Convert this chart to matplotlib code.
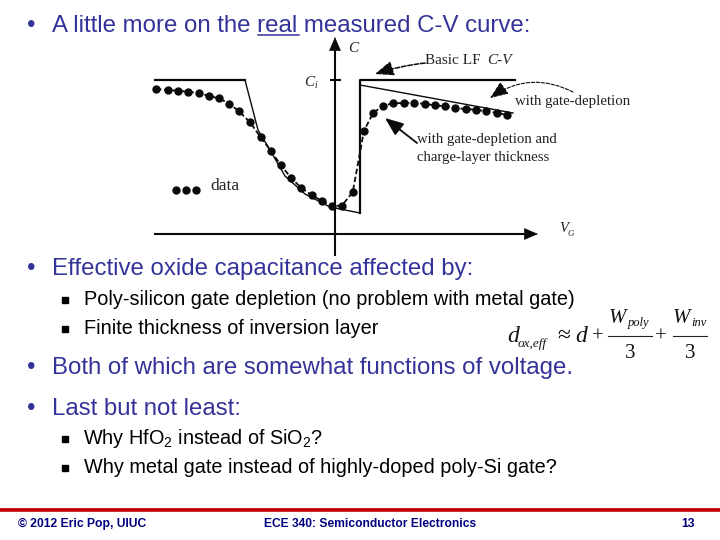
"""Slide with a measured C-V curve sketch, bullets and a small formula."""

import matplotlib
matplotlib.use("Agg")
import matplotlib.pyplot as plt
from matplotlib.patches import FancyArrowPatch

plt.rcParams["font.family"] = ["Liberation Sans", "DejaVu Sans"]
plt.rcParams["mathtext.fontset"] = "custom"
plt.rcParams["mathtext.rm"] = "Liberation Sans"
plt.rcParams["mathtext.it"] = "Liberation Sans:italic"

BLUE = "#333399"
NAVY = "#000080"
INK = "#0a0a0a"
LABEL = "#222222"
SERIF = "Liberation Serif"

# chart values: gate voltage and capacitance
data_v = [-179, -167.3, -157.3, -147.3, -136, -126, -116.3, -105.7, -96, -85, -74.3, -64.3, -54.3,
          -44, -34, -23.3, -13.3, -3.3, 6.7, 17.7, 29, 38.3, 48.3, 58.3, 69, 79.3, 90, 100, 110,
          120, 130.7, 140.7, 151, 161.7, 171.7]
data_c = [145, 144, 143.3, 142.3, 141, 138, 135.7, 130.3, 122.7, 111.7, 96.7, 83.3, 69, 56.3, 46.3,
          38.7, 33.3, 28, 28.3, 41.7, 103.3, 121.3, 128.3, 130.7, 131, 131.3, 130, 128.7, 127.7,
          126, 125, 124.3, 122.7, 121.3, 119]
basic_v = [-180, -90]
basic_c = [154, 154]
basic_inv_v = [25, 25, 180]
basic_inv_c = [21, 154, 154]
depl_v = [-90, -77, -65, -50, -30, -5, 25, 25, 178]
depl_c = [154, 104, 84, 58, 40, 27, 21, 149, 121]
legend_v = [-159, -149, -139]
legend_c = [44, 44, 44]

bullets = [
    (32, "A little more on the real measured C-V curve:"),
    (275, "Effective oxide capacitance affected by:"),
    (374, "Both of which are somewhat functions of voltage."),
    (415, "Last but not least:"),
]
sub_bullets = [
    (84, 305, "Poly-silicon gate depletion (no problem with metal gate)"),
    (84, 334, "Finite thickness of inversion layer"),
    (83, 444, "Why HfO$_{\\mathit{2}}$ instead of SiO$_{\\mathit{2}}$?"),
    (84, 473, "Why metal gate instead of highly-doped poly-Si gate?"),
]

fig = plt.figure(figsize=(7.2, 5.4), dpi=100)
slide = fig.add_axes([0, 0, 1, 1])
slide.set_xlim(0, 720)
slide.set_ylim(540, 0)
slide.axis("off")

# chart area, origin of the axes sits at pixel (335, 234)
chart = fig.add_axes([140 / 720, 1 - 260 / 540, 510 / 720, 225 / 540])
chart.set_xlim(-195, 315)
chart.set_ylim(-26, 199)
chart.axis("off")
chart.patch.set_alpha(0)

chart.plot(basic_v, basic_c, color=INK, lw=1.6)
chart.plot(basic_inv_v, basic_inv_c, color=INK, lw=1.6)
chart.plot(depl_v, depl_c, color=INK, lw=1.0)
chart.plot(data_v, data_c, color=INK, lw=1.3, ls=(0, (3, 1.5)))
chart.plot(data_v, data_c, ls="none", marker="o", ms=5, color=INK)
chart.plot(legend_v, legend_c, ls="none", marker="o", ms=5, color=INK)

# axes of the sketch
chart.plot([-180, 190], [0, 0], color=INK, lw=1.5)
chart.plot([0, 0], [-21, 185], color=INK, lw=1.5)
chart.plot([-4, 5], [154, 154], color=INK, lw=1.5)
for tail, tip in [((0, 180), (0, 197)), ((188, 0), (203, 0))]:
    chart.add_patch(FancyArrowPatch(tail, tip, arrowstyle="-|>,head_length=0.7,head_width=0.3", mutation_scale=13,
                                    color=INK, lw=0.5, shrinkA=0, shrinkB=0))

# callout arrows
head = "-|>,head_length=0.8,head_width=0.32"
chart.add_patch(FancyArrowPatch((90, 171), (40, 160), arrowstyle=head, mutation_scale=14, color=INK, lw=1.1,
                                ls=(0, (3, 1.2)), connectionstyle="arc3,rad=0.05", shrinkA=0, shrinkB=0))
chart.add_patch(FancyArrowPatch((238, 142), (155, 136), arrowstyle=head, mutation_scale=14, color=INK, lw=0.8,
                                ls=(0, (3, 1.5)), connectionstyle="arc3,rad=0.3", shrinkA=0, shrinkB=0))
chart.add_patch(FancyArrowPatch((82, 91), (50, 116), arrowstyle=head, mutation_scale=14, color=INK, lw=1.3,
                                shrinkA=0, shrinkB=0))

# chart labels
slide.text(348, 49, "C", family=SERIF, style="italic", fontsize=11, color=LABEL, va="center")
slide.text(304, 82, "C", family=SERIF, style="italic", fontsize=11, color=LABEL, va="center")
slide.text(314, 86, "i", family=SERIF, style="italic", fontsize=7, color=LABEL, va="center")
slide.text(210, 186, "data", family=SERIF, fontsize=12.5, color=LABEL, va="center")
slide.text(425, 61, "Basic LF ", family=SERIF, fontsize=11, color=LABEL, va="center")
slide.text(487, 61, "C-V", family=SERIF, style="italic", fontsize=11, color=LABEL, va="center")
slide.text(515, 101, "with gate-depletion", family=SERIF, fontsize=10.7, color=LABEL, va="center")
slide.text(417, 139, "with gate-depletion and", family=SERIF, fontsize=10.6, color=LABEL, va="center")
slide.text(417, 157, "charge-layer thickness", family=SERIF, fontsize=10.6, color=LABEL, va="center")
slide.text(559, 228, "V", family=SERIF, style="italic", fontsize=10.5, color=LABEL, va="center")
slide.text(567, 234, "G", family=SERIF, style="italic", fontsize=6.5, color=LABEL, va="center")

# bullets
for y, label in bullets:
    slide.text(52, y, label, fontsize=17.3, color=BLUE, va="baseline")
    slide.text(27, y, "•", fontsize=17.3, color=BLUE, va="baseline")
slide.plot([258, 299], [35, 35], color=BLUE, lw=1.1)
for x, y, label in sub_bullets:
    slide.text(x, y, label, fontsize=14.3, color="black", va="baseline")
    slide.plot([65], [y - 5.5], ls="none", marker="s", ms=3.8, color="black")

# formula
def formula(x, y, label, size=15, style="italic", ha="left"):
    slide.text(x, y, label, family=SERIF, style=style, fontsize=size, color="#111111", ha=ha, va="baseline")

formula(507, 342, "d", 17)
formula(518, 347, "ox,eff", 9.5)
formula(557, 342, "≈", 17, "normal")
formula(575, 342, "d", 17)
formula(592, 342, "+", 15, "normal")
formula(609, 323, "W", 15)
formula(628, 326, "poly", 9)
formula(630, 358, "3", 15, "normal", "center")
formula(655, 342, "+", 15, "normal")
formula(673, 323, "W", 15)
formula(691, 326, "inv", 9)
formula(690, 358, "3", 15, "normal", "center")
slide.plot([608, 652], [335.5, 335.5], color="#222222", lw=0.8)
slide.plot([673, 707], [335.5, 335.5], color="#222222", lw=0.8)

# footer
slide.plot([0, 720], [507.5, 507.5], color="#e8a0a0", lw=0.8)
slide.plot([0, 720], [510, 510], color="#c00000", lw=2.6, solid_capstyle="butt")
slide.text(18, 524, "© 2012 Eric Pop, UIUC", fontsize=8.7, fontweight="bold", color=NAVY, va="center")
slide.text(264, 524, "ECE 340: Semiconductor Electronics", fontsize=8.65, fontweight="bold", color=NAVY, va="center")
slide.text(695, 524, "13", fontsize=8.7, fontweight="bold", color=NAVY, ha="right", va="center")

fig.savefig("out.png", dpi=100)
